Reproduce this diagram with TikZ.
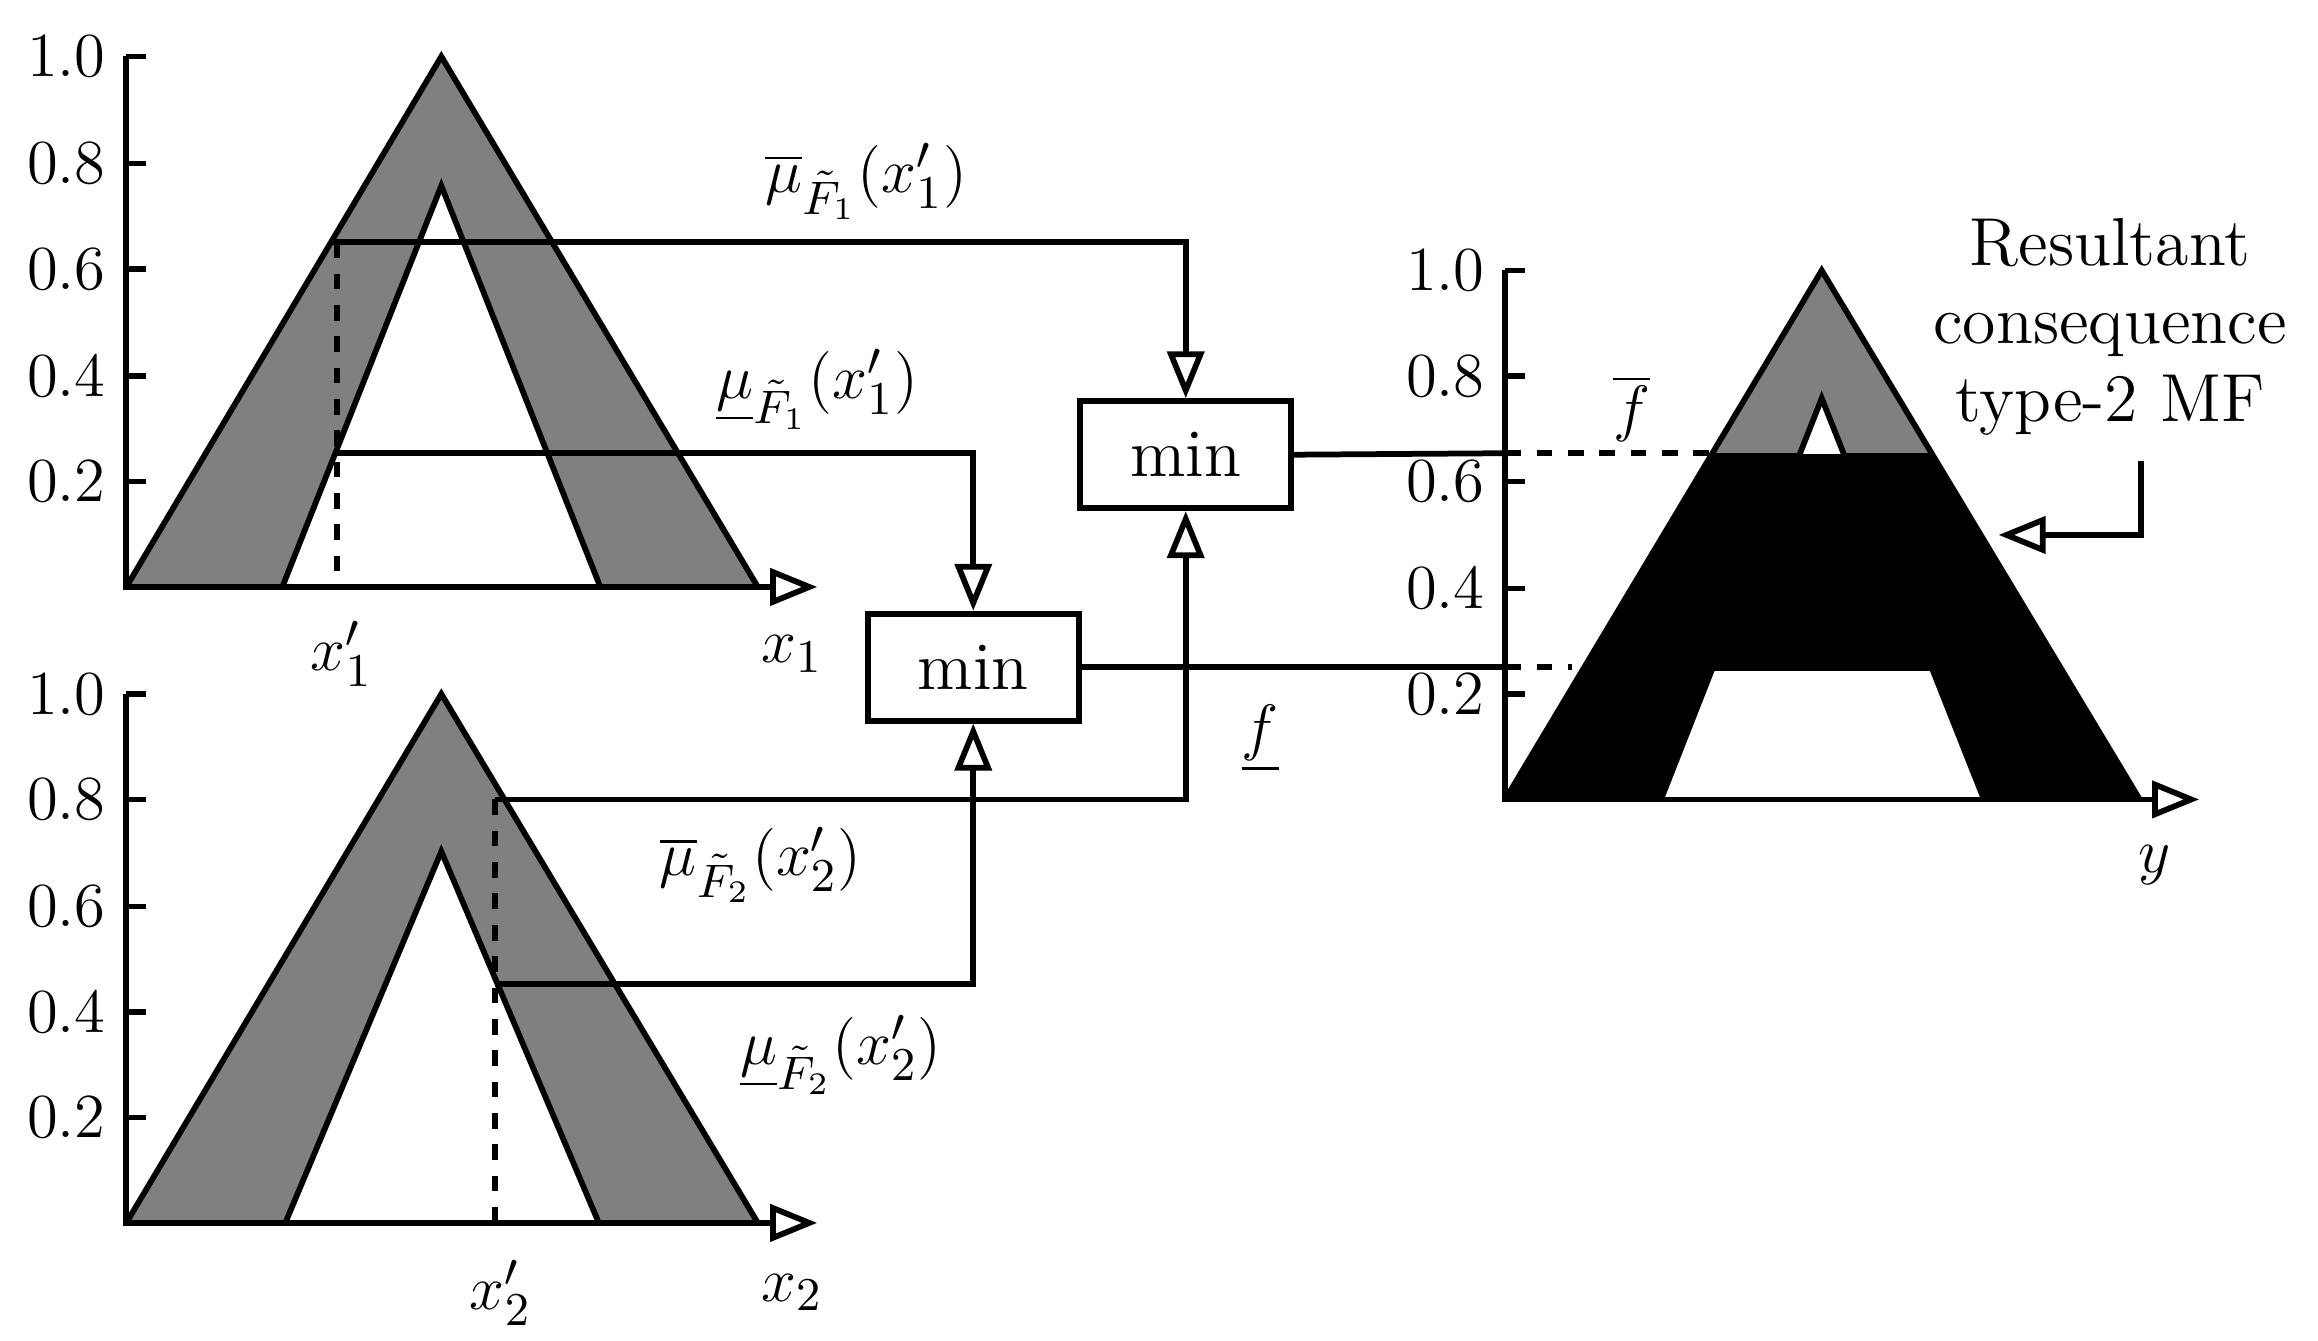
\documentclass[tikz,border=0pt]{standalone}
\usetikzlibrary{arrows.meta}
\begin{document}
\begin{tikzpicture}[x=0.01cm,y=-0.01cm,line width=1.1pt,
  every node/.style={font=\fontsize{13}{15}\selectfont},
  oa/.style={-{Triangle[open,length=9pt,width=7pt]}},
  box/.style={draw,minimum width=1.42cm,minimum height=0.72cm,inner sep=0pt},
  tk/.style={anchor=east,inner sep=2pt}]
\useasboundingbox (0,0) rectangle (1560,902);
% top plot
\fill[gray] (85,395)--(297,38)--(510,395)--cycle;
\fill[white] (190,395)--(297,125)--(404,395)--cycle;
\draw (85,395)--(297,38)--(510,395);
\draw (190,395)--(297,125)--(404,395);
\draw[oa] (85,38)--(85,395)--(550,395);
\foreach \y/\l in {38/1.0,110/0.8,181/0.6,253/0.4,324/0.2}{\draw (85,\y)--(98,\y); \node[tk] at (80,\y) {$\l$};}
% bottom plot
\fill[gray] (85,823)--(297,467)--(510,823)--cycle;
\fill[white] (192,823)--(297,573)--(403,823)--cycle;
\draw (85,823)--(297,467)--(510,823);
\draw (192,823)--(297,573)--(403,823);
\draw[oa] (85,467)--(85,823)--(550,823);
\foreach \y/\l in {467/1.0,538/0.8,610/0.6,681/0.4,752/0.2}{\draw (85,\y)--(98,\y); \node[tk] at (80,\y) {$\l$};}
% right plot
\fill[gray] (1013,538)--(1226,182)--(1440,538)--cycle;
\begin{scope}
\clip (1000,305) rectangle (1460,540);
\fill[black] (1013,538)--(1226,182)--(1440,538)--cycle;
\end{scope}
\begin{scope}
\clip (1000,170) rectangle (1460,305);
\fill[white] (1120,538)--(1226,268)--(1333,538)--cycle;
\draw (1120,538)--(1226,268)--(1333,538);
\end{scope}
\begin{scope}
\clip (1000,452) rectangle (1460,540);
\fill[white] (1120,538)--(1226,268)--(1333,538)--cycle;
\end{scope}
\draw (1013,538)--(1226,182)--(1440,538);
\draw[oa] (1013,182)--(1013,538)--(1480,538);
\foreach \y/\l in {182/1.0,253/0.8,324/0.6,396/0.4,467/0.2}{\draw (1013,\y)--(1026,\y); \node[tk] at (1008,\y) {$\l$};}
% boxes
\node[box] (m1) at (798,306) {min};
\node[box] (m2) at (655,449) {min};
\coordinate (a1) at (222,163);
\coordinate (b1) at (227,305);
\coordinate (a2) at (333,538);
\coordinate (b2) at (333,662);
\draw[dashed] (227,163)--(227,395);
\draw[dashed] (333,538)--(333,823);
\draw[oa] (a1)--(798,163)--(m1.north);
\draw[oa] (b1)--(655,305)--(m2.north);
\draw[oa] (a2)--(798,538)--(m1.south);
\draw[oa] (b2)--(655,662)--(m2.south);
\coordinate (fu) at (1155,305);
\coordinate (fl) at (1058,449);
\draw (m1.east)--(1013,305);
\draw[dashed] (1013,305)--(fu);
\draw (m2.east)--(1013,449);
\draw[dashed] (1013,449)--(fl);
% labels
\node at (583,122) {$\overline{\mu}_{\tilde F_1}(x_1')$};
\node at (550,262) {$\underline{\mu}_{\tilde F_1}(x_1')$};
\node at (512,582) {$\overline{\mu}_{\tilde F_2}(x_2')$};
\node at (566,710) {$\underline{\mu}_{\tilde F_2}(x_2')$};
\node at (230,440) {$x_1'$};
\node at (533,440) {$x_1$};
\node at (337,870) {$x_2'$};
\node at (533,870) {$x_2$};
\node at (1450,582) {$y$};
\node at (1098,275) {$\overline{f}$};
\node at (848,497) {$\underline{f}$};
\node[align=center,inner sep=0pt] (res) at (1420,220) {Resultant\\consequence\\type-2 MF};
\coordinate (rs) at (1441,310);
\draw[oa] (rs)--(1441,360)--(1345,360);
\end{tikzpicture}
\end{document}
